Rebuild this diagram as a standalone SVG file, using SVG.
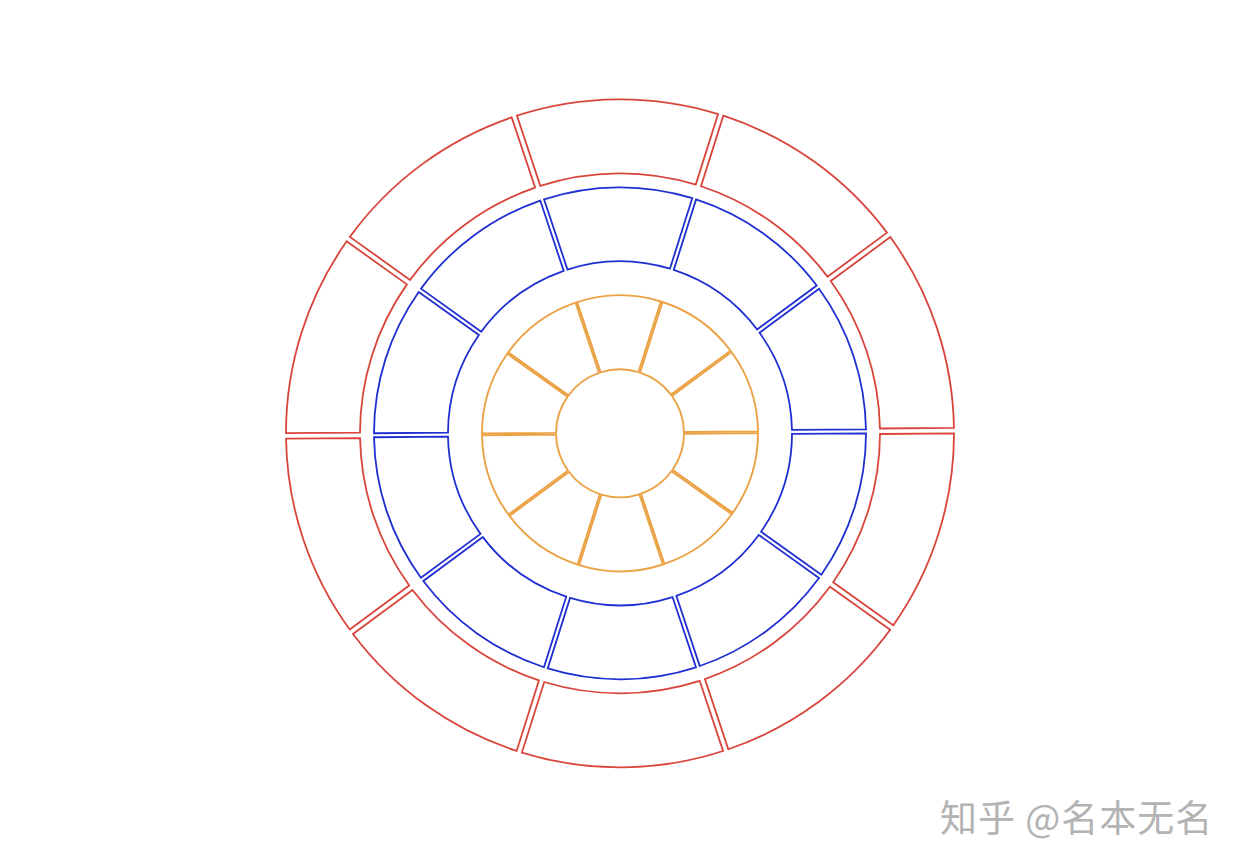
<svg xmlns="http://www.w3.org/2000/svg" xmlns:xlink="http://www.w3.org/1999/xlink" width="1240" height="867" viewBox="0 0 1240 867">
<style>
.seg{fill:none;stroke-width:1.8;stroke-linejoin:miter}
.red{stroke:#d9443b}
.blue{stroke:#1f2fd2}
.orange{stroke:#eba245;stroke-width:1.9}
.wm{font-family:"Noto Sans CJK SC","Noto Sans",sans-serif;font-size:37px;letter-spacing:1px;fill:#b3b3b3}
</style>
<defs>
<path id="segRed" class="seg red" d="M333.989,2.75 A334,334 0 0 1 271.819,194.089 L211.948,150.59 A260,260 0 0 0 259.985,2.75 Z"/>
<path id="segBlue" class="seg blue" d="M245.992,2 A246,246 0 0 1 200.188,142.972 L140.317,99.474 A172,172 0 0 0 171.988,2 Z"/>
<path id="segOrange" class="seg orange" d="M137.997,0.9 A138,138 0 0 1 112.112,80.462 L52.240,36.963 A64,64 0 0 0 63.994,0.9 Z"/>
</defs>
<rect width="1240" height="867" fill="#ffffff"/>
<g transform="translate(620,433.3) rotate(-0.45)">
<g id="ring-red">
<use xlink:href="#segRed" transform="rotate(0)"/>
<use xlink:href="#segRed" transform="rotate(36)"/>
<use xlink:href="#segRed" transform="rotate(72)"/>
<use xlink:href="#segRed" transform="rotate(108)"/>
<use xlink:href="#segRed" transform="rotate(144)"/>
<use xlink:href="#segRed" transform="rotate(180)"/>
<use xlink:href="#segRed" transform="rotate(216)"/>
<use xlink:href="#segRed" transform="rotate(252)"/>
<use xlink:href="#segRed" transform="rotate(288)"/>
<use xlink:href="#segRed" transform="rotate(324)"/>
</g>
<g id="ring-blue">
<use xlink:href="#segBlue" transform="rotate(0)"/>
<use xlink:href="#segBlue" transform="rotate(36)"/>
<use xlink:href="#segBlue" transform="rotate(72)"/>
<use xlink:href="#segBlue" transform="rotate(108)"/>
<use xlink:href="#segBlue" transform="rotate(144)"/>
<use xlink:href="#segBlue" transform="rotate(180)"/>
<use xlink:href="#segBlue" transform="rotate(216)"/>
<use xlink:href="#segBlue" transform="rotate(252)"/>
<use xlink:href="#segBlue" transform="rotate(288)"/>
<use xlink:href="#segBlue" transform="rotate(324)"/>
</g>
<g id="ring-orange">
<use xlink:href="#segOrange" transform="rotate(0)"/>
<use xlink:href="#segOrange" transform="rotate(36)"/>
<use xlink:href="#segOrange" transform="rotate(72)"/>
<use xlink:href="#segOrange" transform="rotate(108)"/>
<use xlink:href="#segOrange" transform="rotate(144)"/>
<use xlink:href="#segOrange" transform="rotate(180)"/>
<use xlink:href="#segOrange" transform="rotate(216)"/>
<use xlink:href="#segOrange" transform="rotate(252)"/>
<use xlink:href="#segOrange" transform="rotate(288)"/>
<use xlink:href="#segOrange" transform="rotate(324)"/>
</g>
</g>
<g id="watermark">
<text class="wm" x="940" y="832">知乎 @名本无名</text>
</g>
</svg>
